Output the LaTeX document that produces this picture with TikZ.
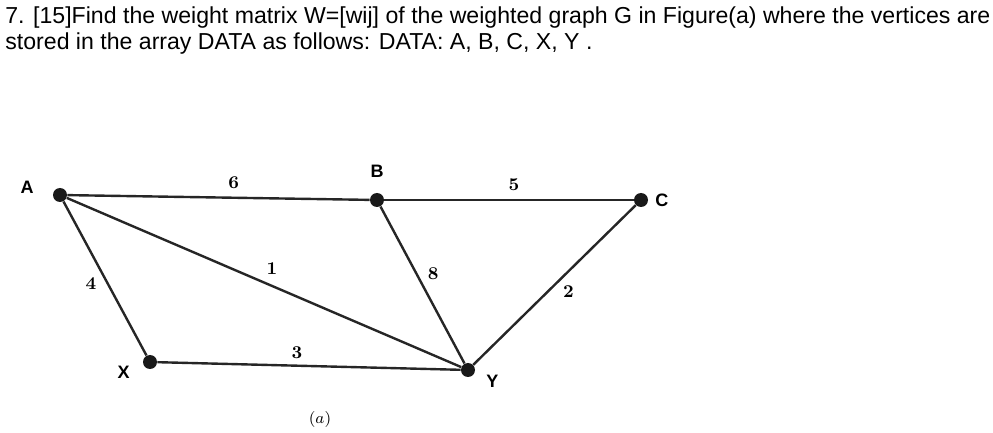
\documentclass[tikz,border=0pt]{standalone}
\usepackage{fontspec}
\setsansfont{Liberation Sans}
\usepackage{tikz}
\usetikzlibrary{positioning}

\begin{document}
\begin{tikzpicture}
   [x=0.5pt, y=-0.5pt,
    vertex/.style={circle, fill=black!90, inner sep=0pt, minimum size=7pt},
    vlabel/.style={font=\sffamily\bfseries\small},
    weight/.style={font=\bfseries\small, inner sep=1pt},
    edge/.style={draw=black!85, line width=1.2pt}]
     \useasboundingbox (0,0) rectangle (993,433);
     % question text
     \node (question) [anchor=north west, align=left, inner sep=0pt,
                       font=\sffamily\fontsize{11.55}{13}\selectfont] at (5,6)
       {7. [15]Find the weight matrix W=[wij] of the weighted graph G in Figure(a) where the vertices are\\
        stored in the array DATA as follows: DATA: A, B, C, X, Y .};
     % draw vertices
     \node (A) at (60,195)  [vertex, label={[vlabel, label distance=6pt, yshift=-4pt]172:A}] {};
     \node (B) at (377,200) [vertex, label={[vlabel, label distance=4pt]above:B}] {};
     \node (C) at (641,200) [vertex, label={[vlabel, label distance=0pt]right:C}] {};
     \node (X) at (150,362) [vertex, label={[vlabel, label distance=3pt, yshift=2pt]183:X}] {};
     \node (Y) at (468,370) [vertex, label={[vlabel, label distance=2pt, yshift=2pt]-8:Y}] {};
     % draw edges
     \draw [edge] (A) to node [pos=.55, above=3pt, weight] {6} (B);
     \draw [edge] (B) to node [pos=.52, above=3pt, weight] {5} (C);
     \draw [edge] (A) to node [pos=.52, above=4pt, weight] {1} (Y);
     \draw [edge] (A) to node [pos=.53, left=4pt, weight] {4} (X);
     \draw [edge] (B) to node [pos=.43, right=4pt, weight] {8} (Y);
     \draw [edge] (C) to node [pos=.54, right=6pt, weight] {2} (Y);
     \draw [edge] (X) to node [pos=.46, above=2pt, weight] {3} (Y);
     % caption
     \node (caption) at (320,420) [font=\footnotesize] {$(a)$};
 \end{tikzpicture}
\end{document}
